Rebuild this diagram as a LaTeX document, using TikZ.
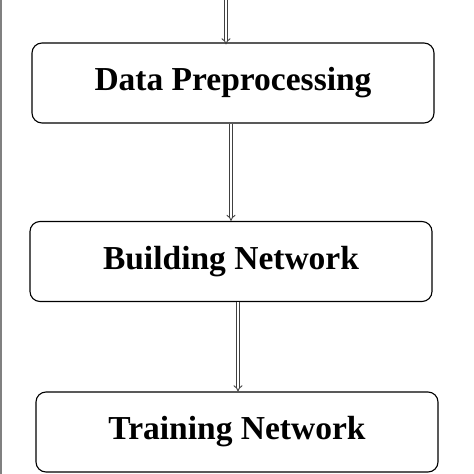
\documentclass[tikz,border=0pt]{standalone}
\usepackage{fontspec}
\setmainfont{Liberation Serif}
\usetikzlibrary{arrows.meta}

\begin{document}
\begin{tikzpicture}[x=1pt,y=-1pt,
  stage/.style={draw, rounded corners=10pt, line width=1.1pt,
    minimum width=402pt, minimum height=80pt,
    font=\fontsize{33.5}{40}\selectfont\bfseries},
  flow/.style={draw=black!75, double, double distance=2.2pt, line width=0.9pt, -{Implies}}]
\useasboundingbox (0,0) rectangle (474,474);
\draw[gray, line width=2pt] (1,0) -- (1,474);% frame edge

\coordinate (in) at (226,0);
\node[stage] (prep) at (233,83) {Data Preprocessing};
\node[stage] (build) at (231,261.5) {Building Network};
\node[stage] (train) at (237,432) {Training Network};

\draw[flow] (in) -- ([yshift=-2pt]in |- prep.north);
\draw[flow] ([xshift=-2pt]prep.south) -- ([xshift=-2pt]prep.south |- build.north);
\draw[flow] ([xshift=7pt]build.south) -- ([xshift=7pt]build.south |- train.north);
\end{tikzpicture}
\end{document}
